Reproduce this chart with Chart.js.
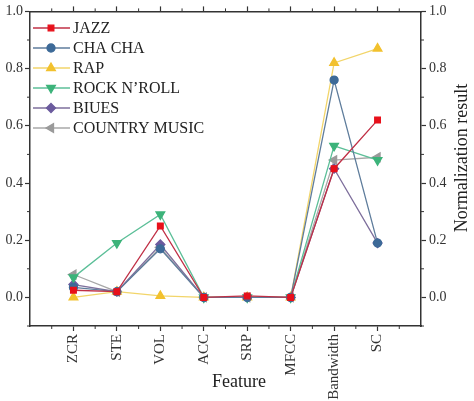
<!DOCTYPE html>
<html lang="en">
<head>
  <meta charset="UTF-8">
  <title>Normalization result by feature</title>
  <script src="https://cdn.jsdelivr.net/npm/chart.js"></script>
  <style>
    body {margin:0; background:#fff;}
    #wrap {width:474px; height:401px; position:relative;}
  </style>
</head>
<body>
<div id="wrap"><canvas id="grafico"></canvas></div>
<script>
// data
const features = ['ZCR', 'STE', 'VOL', 'ACC', 'SRP', 'MFCC', 'Bandwidth', 'SC'];
const jazz    = [0.025, 0.02, 0.25, 0.0, 0.005, 0.0, 0.45, 0.62];
const chacha  = [0.035, 0.02, 0.17, 0.0, 0.0, 0.0, 0.76, 0.19];
const rap     = [0.0, 0.02, 0.005, 0.0, 0.0, 0.0, 0.82, 0.87];
const rock    = [0.07, 0.19, 0.29, 0.0, 0.0, 0.0, 0.53, 0.48];
const blues   = [0.045, 0.02, 0.185, 0.0, 0.0, 0.0, 0.45, 0.19];
const country = [0.08, 0.02, 0.175, 0.0, 0.0, 0.0, 0.48, 0.49];
const seriesNames = ['JAZZ', 'CHA CHA', 'RAP', "ROCK N\u2019ROLL", 'BIUES', 'COUNTRY MUSIC'];
const yTicks = [0, 0.2, 0.4, 0.6, 0.8, 1.0];

const SERIF = '"Liberation Serif", "DejaVu Serif", serif';
const INK = '#333';

const styles = [
  {fill:'#e8101a', line:'#c03046', shape:'rect', rot:0, r:4},
  {fill:'#3d6a98', line:'#5f7d9c', shape:'circle', rot:0, r:4},
  {fill:'#f2c12e', line:'#f2d56a', shape:'triangle', rot:0, r:5},
  {fill:'#3cb37a', line:'#5cbf98', shape:'triangle', rot:180, r:5},
  {fill:'#6b5b9e', line:'#7e6f9c', shape:'rectRot', rot:0, r:4.5},
  {fill:'#9a9a9a', line:'#a8a8a8', shape:'triangle', rot:-90, r:5}
];
const allSeries = [jazz, chacha, rap, rock, blues, country];

const datasets = allSeries.map((vals, k) => ({
  label: seriesNames[k],
  data: vals.map((v, i) => ({x: i, y: v})),
  borderColor: styles[k].line,
  backgroundColor: styles[k].fill,
  pointBackgroundColor: styles[k].fill,
  pointBorderColor: styles[k].fill,
  pointStyle: styles[k].shape,
  pointRotation: styles[k].rot,
  pointRadius: styles[k].r,
  borderWidth: 1.3,
  fill: false
}));

// minor ticks, titles and legend
const extras = {
  id: 'extras',
  afterDraw(chart) {
    const ctx = chart.ctx, a = chart.chartArea;
    const xs = chart.scales.x, ys = chart.scales.y;
    ctx.save();
    ctx.strokeStyle = INK;
    ctx.lineWidth = 1;
    ctx.beginPath();
    for (let v = -0.5; v <= 7.5; v += 1) {
      const px = xs.getPixelForValue(v);
      ctx.moveTo(px, a.bottom); ctx.lineTo(px, a.bottom + 3);
      ctx.moveTo(px, a.top); ctx.lineTo(px, a.top - 3);
    }
    for (let v = -0.1; v <= 0.95; v += 0.2) {
      const py = ys.getPixelForValue(v);
      ctx.moveTo(a.left, py); ctx.lineTo(a.left - 3, py);
      ctx.moveTo(a.right, py); ctx.lineTo(a.right + 3, py);
    }
    ctx.stroke();

    // titles
    ctx.fillStyle = '#222';
    ctx.font = '18px ' + SERIF;
    ctx.textAlign = 'center';
    ctx.textBaseline = 'middle';
    ctx.fillText('Feature', 239, 382);
    ctx.save();
    ctx.translate(462, 158);
    ctx.rotate(-Math.PI / 2);
    ctx.fillText('Normalization result', 0, 0);
    ctx.restore();

    // legend
    ctx.font = '16px ' + SERIF;
    ctx.textAlign = 'left';
    chart.data.datasets.forEach((ds, k) => {
      const y = 28 + k * 20;
      ctx.strokeStyle = ds.borderColor;
      ctx.lineWidth = 1.3;
      ctx.beginPath();
      ctx.moveTo(33, y); ctx.lineTo(70, y);
      ctx.stroke();
      ctx.fillStyle = ds.pointBackgroundColor;
      ctx.strokeStyle = ds.pointBorderColor;
      Chart.helpers.drawPoint(ctx, {pointStyle: ds.pointStyle, rotation: ds.pointRotation, radius: ds.pointRadius, borderWidth: 1}, 51, y);
      ctx.fillStyle = '#222';
      ctx.fillText(ds.label, 73, y + 1);
    });
    ctx.restore();
  }
};

const tickFont = {family: SERIF, size: 14};

new Chart(document.getElementById('grafico'), {
  type: 'line',
  data: { datasets },
  options: {
    responsive: true,
    maintainAspectRatio: false,
    animation: false,
    layout: { padding: {top: 4, left: 0, right: 0, bottom: 0} },
    scales: {
      x: {
        type: 'linear', position: 'bottom', min: -1, max: 8,
        afterBuildTicks: s => { s.ticks = features.map((f, i) => ({value: i})); },
        afterFit: s => { s.height = 75; },
        border: {color: INK, width: 1.5},
        grid: {drawOnChartArea: false, tickLength: 5, tickColor: INK, tickWidth: 1.2},
        ticks: {
          font: {family: SERIF, size: 15}, color: INK, minRotation: 90, maxRotation: 90, padding: 3,
          callback: v => features[v]
        }
      },
      x2: {
        type: 'linear', position: 'top', min: -1, max: 8,
        afterBuildTicks: s => { s.ticks = features.map((f, i) => ({value: i})); },
        afterFit: s => { s.height = 6; },
        border: {color: INK, width: 1.5},
        grid: {drawOnChartArea: false, tickLength: 5, tickColor: INK, tickWidth: 1.2},
        ticks: {display: false}
      },
      y: {
        position: 'left', min: -0.1, max: 1.0,
        afterBuildTicks: s => { s.ticks = yTicks.map(v => ({value: v})); },
        afterFit: s => { s.width = 30; },
        border: {color: INK, width: 1.5},
        grid: {drawOnChartArea: false, tickLength: 5, tickColor: INK, tickWidth: 1.2},
        ticks: {font: tickFont, color: INK, padding: 2, callback: v => v.toFixed(1)}
      },
      y2: {
        position: 'right', min: -0.1, max: 1.0,
        afterBuildTicks: s => { s.ticks = yTicks.map(v => ({value: v})); },
        afterFit: s => { s.width = 53; },
        border: {color: INK, width: 1.5},
        grid: {drawOnChartArea: false, tickLength: 5, tickColor: INK, tickWidth: 1.2},
        ticks: {font: tickFont, color: INK, padding: 3, callback: v => v.toFixed(1)}
      }
    },
    plugins: {
      legend: { display: false },
      tooltip: { enabled: false }
    }
  },
  plugins: [extras]
});
</script>
</body>
</html>
